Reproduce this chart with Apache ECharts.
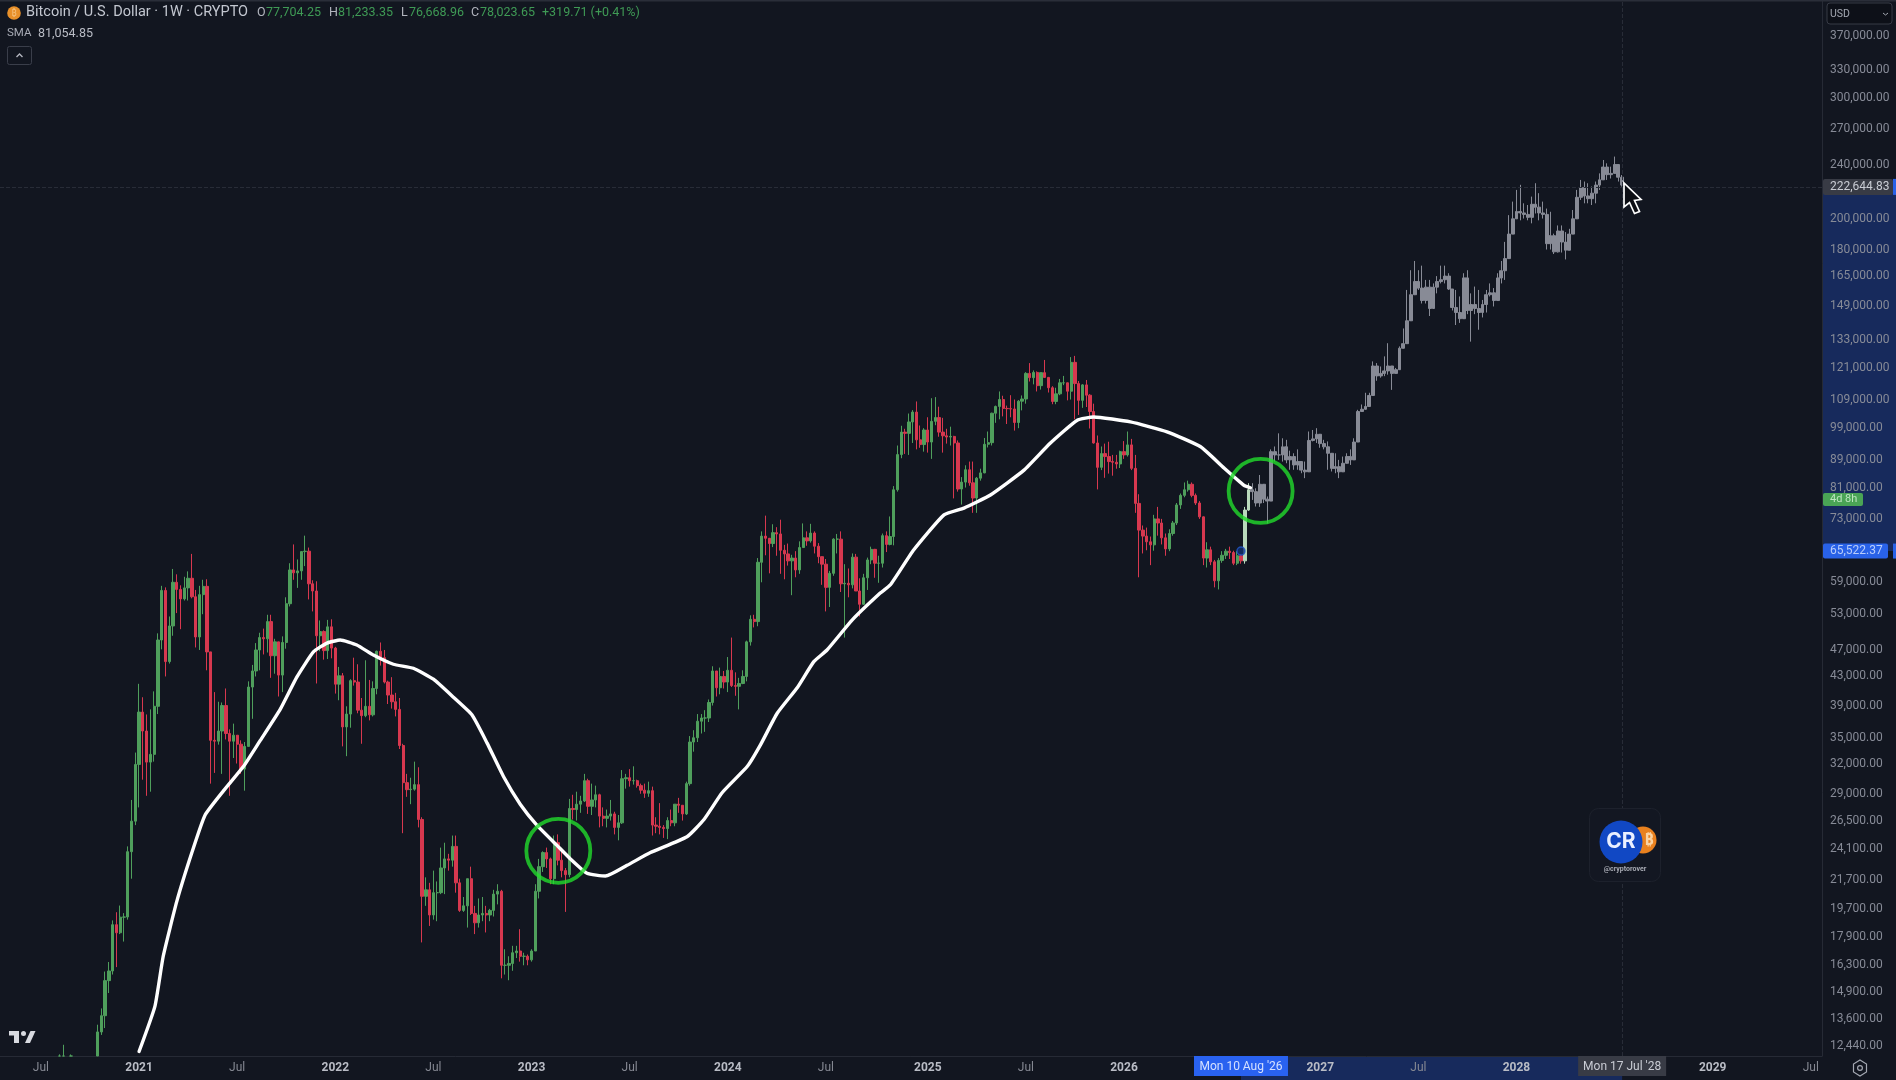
<!DOCTYPE html>
<html><head><meta charset="utf-8">
<style>html,body{margin:0;padding:0;background:#121620;overflow:hidden}#c{width:1896px;height:1080px}</style>
<script src="https://cdn.jsdelivr.net/npm/echarts@6/dist/echarts.min.js"></script>
</head><body><div id="c"></div>
<script>
// ---- axis ticks ----
const priceTicks=[370000,330000,300000,270000,240000,200000,180000,165000,149000,133000,121000,109000,99000,89000,81000,73000,59000,53000,47000,43000,39000,35000,32000,29000,26500,24100,21700,19700,17900,16300,14900,13600,12440];
const timeTickDates=['2020-07-06','2021-01-04','2021-07-05','2022-01-03','2022-07-04','2023-01-02','2023-07-03','2024-01-01','2024-07-01','2025-01-06','2025-07-07','2026-01-05','2027-01-04','2027-07-05','2028-01-03','2029-01-01','2029-07-02'];
const timeTickNames=['Jul','2021','Jul','2022','Jul','2023','Jul','2024','Jul','2025','Jul','2026','2027','Jul','2028','2029','Jul'];
// ---- real candles, one per week, first week below ----
const firstWeek='2020-08-10';
const firstOpen=11100;
const realCloses=[11850,11650,11680,10250,10330,11080,10770,10670,11370,11500,13030,13760,15480,15990,18680,18180,19160,19170,23870,26450,32000,
38150,35800,32250,33100,38900,48600,57400,45200,50950,59000,
57600,55800,57900,59800,56200,49100,56600,58200,46700,34700,
34600,35800,39000,35500,34600,35300,34250,31500,34000,41500,
43800,47000,49000,48800,51700,46100,48300,43200,48200,54900,
61500,60900,61300,65400,65500,58700,57300,49300,50000,46900,
50800,47300,
41900,43100,36300,37900,42400,42200,38400,37700,38900,37800,
41300,46800,45800,42200,40400,39500,38500,34100,30100,29400,
29450,29900,26600,20550,21000,19300,20800,20800,22600,23300,
23200,24300,21500,19600,19900,21800,19400,18800,19300,19400,
19300,19600,20700,20900,16300,16300,16400,17000,17100,16800,
16800,16600,
17100,20900,22700,23800,23300,21800,24600,23200,22400,22100,
27600,27500,28000,28300,30300,27800,28400,28900,26900,26700,
26900,27100,25900,26300,30500,30600,30300,30300,29800,29350,
29050,29300,26100,26000,25900,25800,26500,26300,28000,27900,
27100,30000,34500,35000,37000,37400,37400,39400,43800,41400,
43000,42200,
43900,41700,41600,42000,43000,48300,52100,51700,63100,68900,
68400,67200,69700,69400,65700,64900,63400,64000,61500,66300,
68500,67800,69600,66600,64300,62700,58000,60800,68200,68200,
58700,58800,58500,64200,57300,54800,59900,63600,65900,62900,
62900,69000,67000,68800,80500,90600,97700,97300,101100,104500,
95200,93700,98400,
94500,101300,102600,97700,96500,96100,96300,94200,80700,82600,
86100,82400,78300,83700,85200,93800,94300,104100,106500,109000,
105800,105700,105600,100900,108400,109200,119000,117300,119400,114200,
119300,117400,113400,108300,111100,115300,115300,112100,123500,115000,
108700,114500,110600,104700,94200,86800,90900,
90000,88500,88300,87800,91500,90500,93600,86500,76900,70300,
68900,67600,66900,73000,72000,68500,66000,69500,72000,76500,
79000,80500,82000,79000,77000,73500,64000,65800,63200,59300,
63500,64600,65500,65200,62900,64500,63400];
const realHighs=[12085,12480,11800,12080,10700,11180,11150,10950,11500,11730,13350,14100,15960,16480,18950,19480,19920,19420,24300,28400,33300,
41950,40100,37850,38500,40900,49700,58300,58000,52600,61700,
60600,58400,60100,61200,64900,57500,58300,59500,59600,46700,
40800,39500,39400,41300,36000,36700,35000,34700,34500,42300,
44700,48100,49800,50500,52900,52900,48800,48300,49200,56100,
62900,67000,63700,65500,69000,66300,59400,59200,51900,50200,
52000,52100,
47500,44400,43500,38900,42600,45800,44800,40000,45400,42500,
42300,46900,48200,47000,42400,42900,40700,40000,34300,31000,
30600,32300,31700,26800,21900,21500,22400,21600,24200,24600,
23700,25200,25200,21800,20500,21800,22700,19900,20400,20500,
19900,19700,21000,21400,21000,17200,16800,17400,17400,18400,
17000,16900,
17200,21400,23300,23900,24200,23400,25200,25300,24000,22600,
28500,28900,29200,28800,31000,30500,30000,29800,29000,27700,
27500,28400,27300,27000,31400,31000,31500,31800,30400,30000,
30000,30200,29700,26800,28100,26100,26800,27500,28000,28600,
27900,30200,35200,35900,37900,37900,38400,39800,44500,43400,
44300,43800,
45900,49000,43600,42800,43900,48500,52800,52900,64000,70000,
73800,68100,71700,71000,72800,66900,67200,64700,65500,67700,
71900,70000,71800,70000,67300,63400,63800,61300,68400,69400,
70000,62700,61800,65000,64900,59800,60700,64100,66500,66000,
64500,69500,70000,73600,81500,93400,99800,98800,104000,105200,
108300,99900,99000,
102700,109500,109900,106400,102500,98800,99500,96500,95000,84000,
87400,88500,88500,84000,86400,95800,97900,104300,106800,112000,
110400,106800,110600,109000,108800,110500,119500,123200,120200,119800,
119300,124500,117600,114000,113400,116800,118000,113500,125700,126200,
116000,114800,116400,111000,107500,96600,93100,
94000,94600,90500,90500,91800,94800,97900,95500,90500,79300,
71400,70900,68800,74000,76000,73000,69500,70500,72500,77000,
79500,82500,83000,82500,79500,77500,73600,67500,66500,63600,
64000,65500,66000,66500,65600,65500,64900];
const realLows=[11100,11370,11120,9900,9850,10200,10150,10370,10530,11200,11400,12900,13200,14850,15800,16200,18100,17650,19000,21800,26100,
27700,30400,28800,29200,32300,37900,47100,43000,44900,49300,
53200,50400,55500,55500,55900,47400,47000,53000,43900,30000,
31100,34200,31000,34800,28800,32700,32100,31000,29300,34000,
37300,43000,43900,46300,46600,42800,43400,40200,40800,47200,
54400,59500,57900,59500,62300,55700,53500,42000,46800,45500,
45600,45700,
40600,39700,34000,32900,36200,41700,38000,34300,37500,37100,
37600,40500,44600,42000,39200,38600,37600,33700,25400,28700,
28000,29300,25900,17600,19900,18600,19000,18900,20700,20700,
22400,22700,20800,19500,19500,18500,19300,18100,18500,18900,
18200,18900,19200,20000,15600,15800,15500,16000,16700,16500,
16300,16300,
16500,17100,20400,22300,22600,21400,21400,22800,21900,19500,
21900,26600,26500,27200,28200,27100,27000,27700,25900,26000,
25900,26500,25300,24800,26200,29500,29700,29900,29600,29000,
28600,28700,25200,25400,25300,25000,24900,26000,26000,27200,
26500,27000,29800,33400,34500,35500,35700,36900,39000,40200,
40500,41300,
40800,41500,40300,38500,41900,42300,47700,50700,50900,59000,
64600,60800,66400,64500,60700,59600,62400,56500,60000,60700,
66300,66700,67400,65000,62900,58500,53500,54300,60300,65000,
57100,49000,56100,57800,57300,52600,54700,57500,62700,59900,
58900,62000,65300,66800,66800,80000,89500,90800,90500,94200,
92200,92700,91500,
91200,89300,100000,96200,91200,94000,93400,78200,80000,76600,
81100,81600,74500,74500,83000,85100,92800,93400,100800,102000,
103000,100400,102700,98200,99000,105100,107500,115800,114700,112000,
112700,117200,111600,107300,107300,110600,114400,108700,109000,102000,
103500,106000,106300,98900,94000,80600,86000,
83800,85000,84400,86400,86600,89300,90000,86000,74500,60000,
65000,65700,62500,65600,69000,67000,64500,65500,69000,71500,
75500,78500,80000,78500,76500,73000,62500,62000,62500,58000,
57600,63000,63800,63800,62500,62500,62800];
// ---- the pale bars that bridge real candles and the ghost path ----
const bridgeWeeks=['2026-08-17','2026-08-24'];
const bridgeOpens=[63400,75200];
const bridgeCloses=[75200,80500];
const bridgeHighs=[76000,82300];
const bridgeLows=[62800,75000];
// ---- ghost (projected) bars, weekly ----
const ghostFirstWeek='2026-08-31';
const ghostFirstOpen=80500;
const ghostCloses=[80000,77000,82000,78000,77500,91500,90500,90500,93000,89000,90000,87500,88500,86000,85500,95000,95500,97000,94000,93000,91000,86500,87000,85500,88000,90000,89000,94500,
104700,105500,106500,110500,122000,118000,119000,120000,122000,119000,120500,129500,131500,142000,155000,162000,158500,152000,159000,148000,159000,162000,163000,165000,158000,148500,146000,143000,164000,147000,150000,148000,146000,150000,155000,156000,152000,164000,168000,175000,190000,200000,205000,204000,203000,201000,210000,208000,204000,203000,184000,189000,179000,192000,185000,180000,190000,200000,215000,222000,216000,214000,218000,224000,228000,238000,232000,233000,240000,230000,224000];
const ghostHighs=[82300,80900,84600,81400,78700,92200,93100,97300,95700,95200,91800,91000,92200,88000,88500,97900,98400,99000,95200,95200,94700,88000,91000,89000,90000,91000,92200,95700,
105300,107200,111500,111500,123900,123200,121800,126000,131700,121800,121200,130300,138400,157500,168300,173600,168300,170900,162900,162900,161000,165000,170900,170900,166600,157500,157500,154100,166600,168300,155700,159300,157500,152300,157500,161000,158500,166600,173600,185100,202500,211900,220400,224200,210700,209500,215500,225400,218000,211900,207000,204800,190300,195600,195600,191300,193400,206000,220400,227900,226700,225400,222900,226700,233000,243700,241000,238300,246500,237000,231700];
const ghostLows=[77800,76100,76000,77000,71900,77500,88500,89000,88500,88000,86100,86100,86100,85100,83700,88500,94700,94200,92700,92200,86100,85600,85100,83700,86100,88500,87500,89000,
94700,104700,105300,106400,115500,116100,117300,117900,118500,112600,119000,120600,130300,134500,150500,154800,157500,150500,150500,144300,150500,155700,161000,161000,157500,147000,140000,141000,155700,145200,132400,145200,137800,143600,146000,154100,149000,155700,161000,162900,184200,197000,200200,199000,200200,199000,197000,203600,199000,200200,180400,180400,177700,178600,178600,174500,188200,190300,201300,213100,210700,210700,209500,210700,220400,229000,227900,229000,234400,226700,222900];
// ---- 50-week SMA: week number since 4 Jan 2021, and price ----
const smaWeeks=[0,4.2,6.4,10,14,17.5,22.4,27.7,32,37.4,41.8,46.2,49.8,53.3,57.7,62.1,67.4,72.7,78,83.3,88.2,92.2,96.6,101,105.4,110.7,114.3,118.7,123.6,129.3,135.5,145.2,149.7,154.5,161.2,164.7,169.1,174.4,178.8,182.3,189,196.4,199.1,205.3,213.3,218.6,225.6,234.5,241.5,248.6,253,262.7,272.4,281.3,287.5,292.8,294.5];
const smaValues=[12200,14200,16800,20200,23800,27000,29300,31800,34600,38500,42900,46700,48100,48600,47800,46200,44800,44200,42600,40100,37800,34400,30700,28000,26100,24400,23300,22200,22000,22800,23800,25100,26600,29100,31800,34200,38000,41400,45200,47000,52000,56900,58500,65800,74000,75700,79100,86000,94200,101700,102800,101100,97800,93000,86600,81700,81050];
// ---- green rings, the blue marker and the crosshair ----
const ringWeeks=[111.1,297.2];
const ringPrices=[23940,80180];
const markerWeek='2026-08-10';
const markerPrice=65522.37;
const crossWeek='2028-07-17';
const crossPrice=222644.83;
const header={title:'Bitcoin / U.S. Dollar · 1W · CRYPTO',open:'77,704.25',high:'81,233.35',low:'76,668.96',close:'78,023.65',change:'+319.71 (+0.41%)',sma:'81,054.85'};

// the x axis counts weeks from Mon 4 Jan 2021, as the bars are spaced evenly per week
const WEEK=7*864e5;
const BASE=Date.parse('2021-01-04T00:00:00Z');
const wk=s=>Math.round((Date.parse(s+'T00:00:00Z')-BASE)/WEEK);
const FONT='Roboto';
const GREEN='#4f9f5c',RED='#d7384f',GREY='#888b96';
const AXIS_MIN=12018,AXIS_MAX=417100;

// candles stop at the bottom of the price pane, as they do on the chart
const floor=v=>Math.max(v,AXIS_MIN);
function candles(startWk,firstO,c,l,h){
  return c.map((v,i)=>[startWk+i,floor(i?c[i-1]:firstO),floor(v),floor(l[i]),floor(h[i])]).filter(r=>r[4]>AXIS_MIN);
}
const realData=candles(wk(firstWeek),firstOpen,realCloses,realLows,realHighs);
const ghostData=candles(wk(ghostFirstWeek),ghostFirstOpen,ghostCloses,ghostLows,ghostHighs);
const bridgeData=bridgeWeeks.map((d,i)=>[wk(d),bridgeOpens[i],bridgeCloses[i],bridgeLows[i],bridgeHighs[i]]);
const tickWeeks=timeTickDates.map(wk);
const tickName=new Map(tickWeeks.map((t,i)=>[t,timeTickNames[i]]));
const money=v=>Number(v).toLocaleString('en-US',{minimumFractionDigits:2,maximumFractionDigits:2});

const chart=echarts.init(document.getElementById('c'),null,{renderer:'canvas'});
chart.setOption({
  animation:false,backgroundColor:'#121620',
  title:{text:header.title,left:26,top:4,padding:0,textStyle:{color:'#c3c7d0',fontFamily:FONT,fontSize:14.5,fontWeight:'normal',lineHeight:17}},
  grid:{left:0,right:74,top:0,bottom:24,containLabel:false},
  xAxis:{type:'value',min:-36.85,max:445.96,scale:true,
    axisLine:{show:true,onZero:false,lineStyle:{color:'#262a35',width:1}},axisTick:{show:false},splitLine:{show:false},
    axisLabel:{customValues:tickWeeks,margin:6,hideOverlap:false,showMinLabel:true,showMaxLabel:true,
      formatter:v=>{const n=tickName.get(v)||'';return /^\d/.test(n)?'{y|'+n+'}':'{m|'+n+'}';},
      rich:{y:{color:'#b9bcc5',fontFamily:FONT,fontSize:12,fontWeight:'bold'},m:{color:'#858892',fontFamily:FONT,fontSize:12}}}},
  yAxis:{type:'log',logBase:10,position:'right',min:AXIS_MIN,max:AXIS_MAX,
    axisLine:{show:true,onZero:false,lineStyle:{color:'#262a35',width:1}},axisTick:{show:false},splitLine:{show:false},
    axisLabel:{customValues:priceTicks,margin:8,color:'#878b97',fontFamily:FONT,fontSize:12,hideOverlap:false,showMinLabel:true,showMaxLabel:true,formatter:money}},
  series:[
    {name:'BTCUSD',type:'candlestick',data:realData,barWidth:2.8,z:3,
      itemStyle:{color:GREEN,color0:RED,borderColor:GREEN,borderColor0:RED,borderWidth:1},
      markLine:{silent:true,symbol:'none',label:{show:false},animation:false,
        lineStyle:{color:'#282c37',type:'dashed',width:1},
        data:[{yAxis:crossPrice},{xAxis:wk(crossWeek)}]}},
    {name:'Ghost',type:'candlestick',data:ghostData,barWidth:3.4,z:3,
      itemStyle:{color:GREY,color0:GREY,borderColor:GREY,borderColor0:GREY,borderWidth:1}},
    {name:'Bridge',type:'candlestick',data:bridgeData,barWidth:3,z:3,
      itemStyle:{color:'#b9d9bc',color0:'#b9d9bc',borderColor:'#b9d9bc',borderColor0:'#b9d9bc',borderWidth:1}},
    {name:'SMA',type:'line',data:smaWeeks.map((w,i)=>[w,smaValues[i]]),smooth:0.15,showSymbol:false,z:4,clip:true,
      lineStyle:{color:'#ffffff',width:3.4,cap:'round',join:'round'}},
    {name:'Marker',type:'scatter',data:[[wk(markerWeek),markerPrice]],symbolSize:8,z:5,
      itemStyle:{color:'#12306e',borderColor:'#2258c8',borderWidth:1.5}},
    {name:'Rings',type:'scatter',data:ringWeeks.map((w,i)=>[w,ringPrices[i]]),symbolSize:64,z:6,
      itemStyle:{color:'rgba(0,0,0,0)',borderColor:'#22dc2c',borderWidth:3.8}}
  ]
});

// price / date tags follow the axes
const xPx=d=>chart.convertToPixel({xAxisIndex:0},d);
const yPx=v=>chart.convertToPixel({yAxisIndex:0},v);
const AX=1822,BOT=1056;
const sx0=xPx(wk(markerWeek)),sx1=xPx(wk(crossWeek)),sy0=yPx(crossPrice),sy1=yPx(markerPrice);
const rect=(x,y,w,h,fill,z,r,stroke)=>({type:'rect',z:z,silent:true,shape:{x,y,width:w,height:h,r:r||0},style:{fill:fill,stroke:stroke||null}});
const text=(x,y,t,fill,size,opt)=>({type:'text',z:120,silent:true,x,y,style:Object.assign({text:t,fill:fill,fontFamily:FONT,fontSize:size||12,verticalAlign:'middle'},opt||{})});
const poly=(pts,fill,z,stroke,lw)=>({type:'polygon',z:z||120,silent:true,shape:{points:pts},style:{fill:fill,stroke:stroke||null,lineWidth:lw||0}});
const HG='#3f9a55';
chart.setOption({graphic:{elements:[
  rect(0,0,1896,1.5,'#2a2e39',1),
  rect(AX+0.5,sy0,74,sy1-sy0,'#172a5c',-1),
  rect(sx0,BOT+1,sx1-sx0,23,'#172a5c',-1),
  // price tags
  rect(AX+1,sy0-8,70,16,'#383b45',100,2),
  text(AX+8,sy0,money(crossPrice),'#c9ccd4',12),
  rect(AX+1,sy1-7.5,65,15,'#2962e8',100,2),
  text(AX+8,sy1,money(markerPrice),'#b9cdfb',12),
  rect(1893,sy0-8,3,16,'#2962e8',100),
  rect(1893,sy1-7.5,3,15,'#2962e8',100),
  rect(AX+1,493,40,13,'#4aa455',100,2),
  text(AX+8,499.5,'4d 8h','#bde5c0',11),
  // date tags
  rect(sx0-47,BOT,94,20,'#2962f0',100),
  text(sx0,BOT+11,"Mon 10 Aug '26",'#d4e0ff',12,{align:'center'}),
  rect(sx1-44,BOT,88,20,'#383b45',100),
  text(sx1,BOT+11,"Mon 17 Jul '28",'#c9ccd4',12,{align:'center'}),
  // currency box
  rect(1827,3,65,21,'#0d1018',100,3,'#363a45'),
  text(1830,14,'USD','#a4a8b2',10.5),
  {type:'polyline',z:120,silent:true,shape:{points:[[1883,13],[1885.5,15],[1888,13]]},style:{stroke:'#a4a8b2',lineWidth:1,fill:null}},
  // settings icon
  poly([[1860,1060],[1866.5,1064],[1866.5,1072],[1860,1076],[1853.5,1072],[1853.5,1064]],null,120,'#a4a8b2',1.2),
  {type:'circle',z:120,silent:true,shape:{cx:1860,cy:1068,r:2.4},style:{fill:null,stroke:'#a4a8b2',lineWidth:1.2}},
  // legend header
  {type:'circle',z:120,silent:true,shape:{cx:14,cy:13,r:6.8},style:{fill:'#e8902a'}},
  text(14,13.5,'₿','#f6c07c',9,{align:'center',fontFamily:'Noto Sans, DejaVu Sans'}),
  text(257,13,'O','#b2b5be',12.5),text(266,13,header.open,HG,12.5),
  text(329,13,'H','#b2b5be',12.5),text(338,13,header.high,HG,12.5),
  text(401,13,'L','#b2b5be',12.5),text(409,13,header.low,HG,12.5),
  text(471,13,'C','#b2b5be',12.5),text(480,13,header.close,HG,12.5),
  text(542,13,header.change,HG,12.5),
  text(7,33.5,'SMA','#a8abb5',11.5),
  text(38,33.5,header.sma,'#b9bcc5',12.5),
  rect(7.5,46.5,24,18,'#121620',100,2,'#3a3e4a'),
  {type:'polyline',z:120,silent:true,shape:{points:[[16.5,57],[19.5,54],[22.5,57]]},style:{stroke:'#b2b5be',lineWidth:1.4,fill:null}},
  // mouse cursor
  poly([[1624,183],[1624,207],[1629.5,202.5],[1634.5,213.5],[1639.5,211.5],[1634.5,200.5],[1641,199.5]],'#0c0e14',130,'#ffffff',1.7),
  // TradingView mark
  poly([[9,1031],[19,1031],[19,1043],[14,1043],[14,1035.5],[9,1035.5]],'#d8dae0'),
  poly([[25,1043],[30.5,1031],[35.5,1031],[30,1043]],'#d8dae0'),
  {type:'circle',z:120,silent:true,shape:{cx:23.5,cy:1033.5,r:2.5},style:{fill:'#d8dae0'}},
  // channel badge
  rect(1589.5,808.5,71,73,'#131722',90,9,'#1d212c'),
  {type:'circle',z:91,silent:true,shape:{cx:1643,cy:840,r:13.5},style:{fill:'#e9811f'}},
  Object.assign(text(1649,840,'₿','#f9d3a4',16,{align:'center',fontWeight:'bold',fontFamily:'Noto Sans, DejaVu Sans'}),{z:92}),
  {type:'circle',z:93,silent:true,shape:{cx:1621,cy:842,r:21.5},style:{fill:'#1148c4'}},
  Object.assign(text(1621,842,'CR','#eaf0ff',21,{align:'center',fontWeight:'bold',fontFamily:'Inter'}),{z:94}),
  Object.assign(text(1625,869,'@cryptorover','#a8abb4',7,{align:'center',fontWeight:'bold'}),{z:94})
]}});
</script></body></html>
